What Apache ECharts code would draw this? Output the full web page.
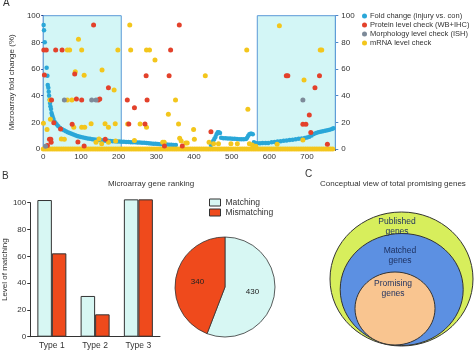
<!DOCTYPE html>
<html>
<head>
<meta charset="utf-8">
<script src="https://cdn.jsdelivr.net/npm/echarts@6/dist/echarts.min.js"></script>
<style>
  html, body { margin: 0; padding: 0; background: #fff; }
  #main { width: 474px; height: 350px; }
</style>
</head>
<body>
<div id="main"></div>
<script>
const chart = echarts.init(document.getElementById("main"));
const FONT = "Liberation Sans, Arial, sans-serif";

// ********
// * Data *
// ********

// Panel A: fold change curve (sorted genes), [gene rank, %]
const foldChange = [
  [1, 93], [2, 89], [4, 80], [9, 61], [11, 55], [12, 48], [13.5, 46], [14.5, 43], [15.5, 40],
  [17, 37], [18, 34.5], [19, 32], [20.5, 30], [22, 27], [23.5, 25.5], [25, 24], [27, 22.5],
  [30, 20.5], [33, 19.3], [36, 18.3], [40, 17], [45, 15.7], [50, 14.8], [55, 14], [60, 13.3],
  [65, 12.6], [70, 12], [75, 11.4], [80, 10.8], [85, 10.3], [90, 9.8], [95, 9.4], [100, 9],
  [106, 8.6], [112, 8.2], [118, 7.9], [124, 7.6], [130, 7.3], [136, 7.1], [142, 6.9], [148, 6.7],
  [154, 6.5], [160, 6.4], [166, 6.2], [172, 6.1], [178, 6], [184, 5.9], [190, 5.8], [196, 5.7],
  [202, 5.6], [208, 5.5], [214, 5.4], [220, 5.3], [226, 5.2], [232, 5.1], [238, 5], [244, 5],
  [250, 4.9], [256, 4.8], [262, 4.7], [268, 4.6], [274, 4.5], [280, 4.3], [286, 4.2], [292, 4],
  [298, 3.9], [304, 3.8], [310, 3.6], [316, 3.5], [322, 3.4], [328, 3.3], [334, 3.2], [340, 3.1],
  [346, 3], [352, 3],
  [445, 3], [448, 4.5], [451, 6], [454, 7.5], [457, 9], [460, 11], [463, 12.5], [466, 12.5],
  [469, 12], [472, 8.5], [478, 8], [484, 8], [490, 7.8], [496, 7.8], [502, 7.7], [508, 7.6],
  [514, 7.5], [520, 7.4], [526, 7.3], [532, 7.3], [538, 7.5], [541, 8.5], [544, 10], [547, 11],
  [550, 11.5], [553, 11.5], [556, 11], [559, 5], [562, 4.5], [568, 4.3], [575, 4.4], [582, 4.5],
  [590, 4.5], [597, 4.5], [606, 5], [614, 5.3], [622, 5.6], [630, 5.8], [638, 6.1], [646, 6.4],
  [654, 6.7], [662, 7], [670, 7.3], [678, 7.6], [686, 7.9], [694, 8.3], [700, 8.7], [706, 9.2],
  [712, 10.2], [718, 11.2], [724, 12], [730, 12.5], [736, 13], [742, 13.3], [748, 13.6],
  [754, 14], [760, 14.4], [766, 15], [770, 15.5]
];

// Panel A: protein level check (WB+IHC)
const proteinCheck = [
  [1.5, 74.3], [8, 74.3], [33, 74.3], [50, 74.3], [133.6, 93], [3, 55.5], [83.5, 56.3], [173, 46],
  [22, 36.8], [88, 37.5], [102, 36.8], [146, 36.8], [150, 37.5], [28, 19.7], [76.7, 18.5], [46, 15],
  [16.5, 7.3], [20, 7.3], [21, 5], [11, 2.7], [92, 5.3], [108.5, 2.3], [164.5, 7.3], [361, 93],
  [338, 74.3], [273, 55], [334, 55], [223, 36.8], [275.5, 36.8], [242, 31], [227, 18.8],
  [270, 18.8], [321.6, 2.3], [369, 2.3], [445, 13], [645, 55], [649, 55], [733, 55], [721, 46],
  [706, 25.5], [689, 18.5], [697, 18.5], [710, 12.3], [754, 3.5]
];

// Panel A: morphology level check (ISH)
const morphologyCheck = [[56, 36.8], [128.6, 36.8], [140, 36.8], [689, 36.8], [6, 2]];

// Panel A: mRNA level check (scattered) + baseline genes at 0
const mrnaCheck = [
  [64, 74.3], [70, 74.3], [102, 74.3], [198, 74.3], [93.5, 82.3], [85, 58], [108.5, 55.3],
  [156, 59.3], [188, 44.3], [18, 36.8], [64, 36.8], [76, 36.8], [0.5, 19.3], [81, 16.3],
  [102, 16.3], [110, 16.3], [127, 19], [164, 19], [173, 16.3], [191, 19], [10, 14.7], [19, 22.4],
  [56, 7.3], [48, 7.5], [140, 5], [148, 7.5], [155, 4], [173, 5], [192, 6], [229.6, 93],
  [232, 74.3], [274, 74.3], [282, 74.3], [296.5, 66.8], [430, 55], [351, 36.8], [332, 26],
  [224, 18.8], [257, 18.8], [274, 16.3], [359, 18.8], [399, 14.7], [242, 6.3], [362, 8], [366, 6],
  [378, 4.5], [382, 4.5], [401, 7.3], [317, 5], [321, 5], [540, 74.3], [543, 29.8], [440, 5],
  [452, 4], [465, 4], [498, 4], [515, 4], [547, 4], [555, 3], [564, 2], [626.6, 92.5], [735, 74.3],
  [739, 74.3], [692, 51.8], [689, 6.8], [620.6, 3.5]
];
const mrnaBaseX = [
  0, 6, 12, 18, 24, 30, 36, 42, 48, 54, 60, 66, 72, 78, 84, 90, 96, 102, 108, 114, 120, 126, 132,
  138, 144, 150, 156, 162, 168, 174, 180, 186, 192, 198, 204, 210, 216, 222, 228, 234, 240, 246,
  252, 258, 264, 270, 276, 282, 288, 294, 300, 306, 312, 318, 324, 330, 336, 342, 348, 354, 360,
  366, 372, 378, 384, 390, 396, 402, 408, 414, 420, 426, 432, 438, 444, 450, 456, 462, 468, 474,
  480, 486, 492, 498, 504, 510, 516, 522, 528, 534, 540, 546, 552, 558, 564, 570, 576, 582, 588,
  594, 600, 606, 612, 618, 624, 630, 636, 642, 648, 654, 660, 666, 672, 678, 684, 690, 696, 702,
  708, 714, 720, 726, 732, 738, 744, 750, 756, 762, 768
];

// Highlighted ranking zones (gene rank ranges)
const zones = [[0, 207], [568, 775]];

// Panel B
const typeNames = ["Type 1", "Type 2", "Type 3"];
const matching = [102, 30.4, 102.5];
const mismatching = [62.2, 16.7, 102.5];
const pieCounts = [["Matching", 430], ["Mismatching", 340]];

// Panel C labels (outer -> inner)
const conceptLabels = ["Published\ngenes", "Matched\ngenes", "Promising\ngenes"];

// Colours
const colors = {
  fold: "#2aa7d8", protein: "#e3412b", morph: "#7d8a99", mrna: "#f3c61c",
  match: "#d7f7f3", mismatch: "#ef4a1c"
};

// *************
// * Functions *
// *************

function scatterSeries(name, data, color, size, z) {
  return {
    name: name, type: "scatter", xAxisIndex: 0, yAxisIndex: 0,
    data: data, symbolSize: size, clip: false, z: z,
    itemStyle: { color: color, opacity: 1 },
    emphasis: { disabled: true }
  };
}

function titleText(text, left, top, size) {
  return {
    text: text, left: left, top: top, padding: 0,
    textStyle: { fontSize: size, fontWeight: "normal", color: "#333" }
  };
}

const baseAxisText = { fontFamily: FONT, fontSize: 8, color: "#333" };

const option = {
  animation: false,
  textStyle: { fontFamily: FONT },
  title: [
    titleText("A", 3, -2, 10),
    titleText("B", 2, 171, 10),
    titleText("C", 305, 169, 10),
    titleText("Microarray gene ranking", 108, 180, 8),
    titleText("Conceptual view of total promising genes", 320, 180, 8)
  ],
  legend: [
    {
      data: ["Fold change (injury vs. con)", "Protein level check (WB+IHC)",
             "Morphology level check (ISH)", "mRNA level check"],
      orient: "vertical", left: 362, top: 11.5, itemWidth: 5, itemHeight: 5, itemGap: 0,
      icon: "circle", selectedMode: false, padding: 0,
      textStyle: { fontSize: 7.5, lineHeight: 9, color: "#333", padding: [0, 0, 0, -2] }
    },
    {
      data: ["Matching", "Mismatching"],
      orient: "vertical", left: 209, top: 198, itemWidth: 11, itemHeight: 7, itemGap: 1,
      icon: "rect", selectedMode: false, padding: 0,
      itemStyle: { borderColor: "#333", borderWidth: 1 },
      textStyle: { fontSize: 8.5, lineHeight: 9, color: "#333" }
    }
  ],
  grid: [
    { left: 26.7, right: 138.7, top: 15.7, height: 133.3 },
    { left: 26, width: 134, top: 202.7, height: 134 }
  ],
  xAxis: [
    {
      gridIndex: 0, type: "value", min: 0, max: 775, interval: 100,
      axisLine: { lineStyle: { color: "#666", width: 1 } },
      axisTick: { length: 2, lineStyle: { color: "#666" } },
      axisLabel: Object.assign({ margin: 4, formatter: v => (v % 100 === 0 ? v : "") }, baseAxisText),
      splitLine: { show: false }
    },
    {
      gridIndex: 1, type: "category", data: typeNames,
      axisLine: { lineStyle: { color: "#333", width: 1 } },
      axisTick: { length: 3, lineStyle: { color: "#333" } },
      axisLabel: Object.assign({ margin: 4 }, baseAxisText, { fontSize: 8.5 })
    }
  ],
  yAxis: [
    {
      gridIndex: 0, type: "value", min: 0, max: 100, interval: 20,
      name: "Microarray fold change (%)", nameLocation: "middle", nameGap: 17,
      nameTextStyle: { fontSize: 8, color: "#333" },
      axisLine: { show: true, lineStyle: { color: "#1d3f8f", width: 1.2 } },
      axisTick: { show: true, length: 2, lineStyle: { color: "#1d3f8f" } },
      axisLabel: Object.assign({ margin: 3 }, baseAxisText),
      splitLine: { show: false }
    },
    {
      gridIndex: 0, type: "value", min: 0, max: 100, interval: 20, position: "right",
      axisLine: { show: true, lineStyle: { color: "#4f86c6", width: 1 } },
      axisTick: { show: true, length: 3, lineStyle: { color: "#4f86c6" } },
      axisLabel: Object.assign({ margin: 6 }, baseAxisText),
      splitLine: { show: false }
    },
    {
      gridIndex: 1, type: "value", min: 0, max: 100, interval: 20,
      name: "Level of matching", nameLocation: "middle", nameGap: 18,
      nameTextStyle: { fontSize: 8, color: "#333" },
      axisLine: { show: true, lineStyle: { color: "#333", width: 1 } },
      axisTick: { show: true, length: 3, lineStyle: { color: "#333" } },
      axisLabel: Object.assign({ margin: 4 }, baseAxisText),
      splitLine: { show: false }
    }
  ],
  series: [
    {
      name: "zones", type: "line", xAxisIndex: 0, yAxisIndex: 0, data: [], z: 1,
      markArea: {
        silent: true,
        itemStyle: { color: "#d3f6f6", borderColor: "#5b9bd8", borderWidth: 1 },
        data: zones.map(z => [{ xAxis: z[0] }, { xAxis: z[1] }])
      }
    },
    scatterSeries("Fold change (injury vs. con)", foldChange, colors.fold, 4.5, 3),
    scatterSeries("mRNA level check", mrnaBaseX.map(x => [x, 0]).concat(mrnaCheck), colors.mrna, 5, 4),
    scatterSeries("Protein level check (WB+IHC)", proteinCheck, colors.protein, 5, 5),
    scatterSeries("Morphology level check (ISH)", morphologyCheck, colors.morph, 5, 6),
    {
      name: "Matching", type: "bar", xAxisIndex: 1, yAxisIndex: 2, data: matching,
      barWidth: 14.5, barGap: "0%", clip: false,
      itemStyle: { color: colors.match, borderColor: "#333", borderWidth: 1 }
    },
    {
      name: "Mismatching", type: "bar", xAxisIndex: 1, yAxisIndex: 2, data: mismatching,
      barWidth: 14.5, clip: false,
      itemStyle: { color: colors.mismatch, borderColor: "#333", borderWidth: 1 }
    },
    {
      name: "Gene ranking", type: "pie", center: [225, 287], radius: 50,
      startAngle: 90, clockwise: true,
      data: pieCounts.map(p => ({ name: p[0], value: p[1] })),
      itemStyle: { borderColor: "#333", borderWidth: 0.8 },
      color: [colors.match, colors.mismatch],
      label: { position: "inner", formatter: "{c}", fontSize: 8, color: "#222" },
      labelLine: { show: false },
      emphasis: { disabled: true }
    }
  ],
  graphic: [
    { type: "ellipse", shape: { cx: 401.5, cy: 279, rx: 71.5, ry: 67 },
      style: { fill: "#d7ee5c", stroke: "#333", lineWidth: 1 }, z: 10 },
    { type: "ellipse", shape: { cx: 401.7, cy: 289.5, rx: 61.5, ry: 56 },
      style: { fill: "#5c90e2", stroke: "#333", lineWidth: 1 }, z: 11 },
    { type: "ellipse", shape: { cx: 395, cy: 308.5, rx: 40, ry: 36.5 },
      style: { fill: "#f9c590", stroke: "#333", lineWidth: 1 }, z: 12 },
    { type: "text", x: 397, y: 227, z: 13,
      style: { text: conceptLabels[0], fill: "#1c2f5e", font: "8.5px " + FONT, align: "center", verticalAlign: "middle", lineHeight: 10 } },
    { type: "text", x: 400, y: 256, z: 13,
      style: { text: conceptLabels[1], fill: "#1c2f5e", font: "8.5px " + FONT, align: "center", verticalAlign: "middle", lineHeight: 10 } },
    { type: "text", x: 393, y: 289, z: 13,
      style: { text: conceptLabels[2], fill: "#1c2f5e", font: "8.5px " + FONT, align: "center", verticalAlign: "middle", lineHeight: 10 } }
  ]
};

chart.setOption(option);
</script>
</body>
</html>
